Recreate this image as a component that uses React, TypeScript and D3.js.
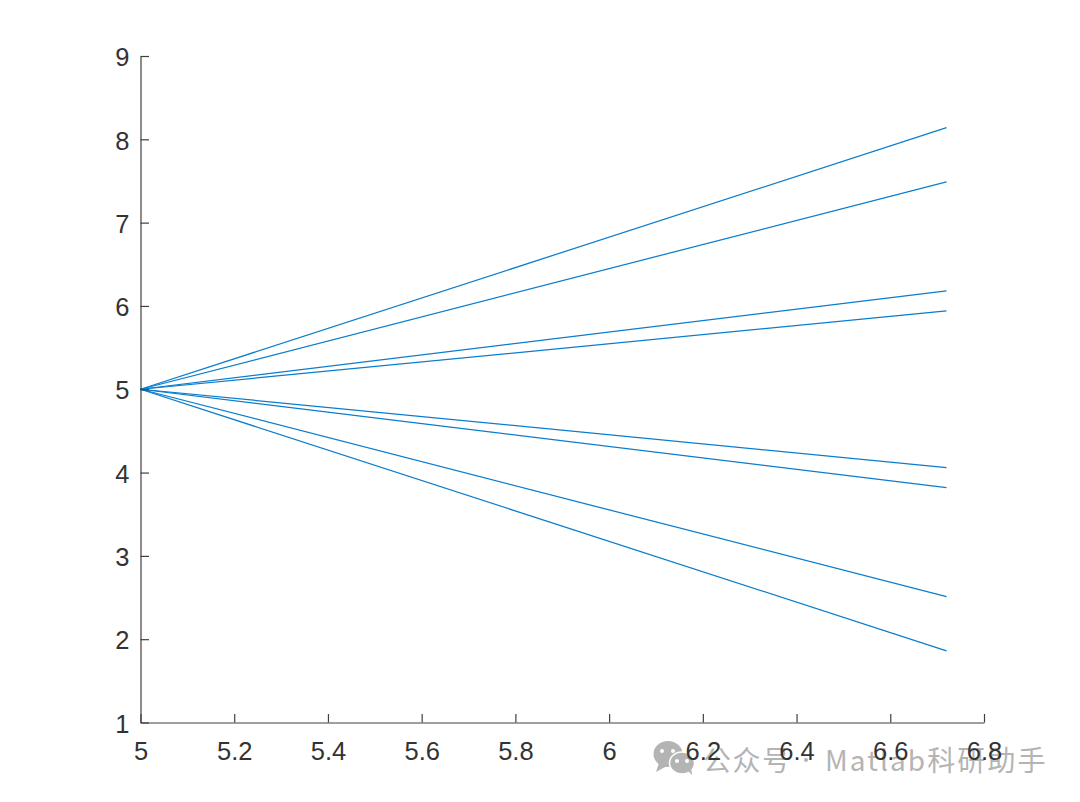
import React, { useEffect, useRef } from 'react';
import * as d3 from 'd3';

// every ray starts at (5, 5) and stops at x = 6.72
const startPoint = [5, 5];
const endX = 6.72;
const endY = [8.14, 7.49, 6.18, 5.94, 4.06, 3.82, 2.51, 1.86];

const xTicks = [5, 5.2, 5.4, 5.6, 5.8, 6, 6.2, 6.4, 6.6, 6.8];
const yTicks = [1, 2, 3, 4, 5, 6, 7, 8, 9];

const width = 1080;
const height = 802;
const axisColor = '#404040';
const tickFont = '"Liberation Sans", Arial, sans-serif';

const App = () => {
  const svgRef = useRef<SVGSVGElement | null>(null);

  useEffect(() => {
    const svg = d3.select(svgRef.current);
    svg.selectAll('*').remove();

    const x = d3.scaleLinear().domain([5, 6.8]).range([140.5, 984]);
    const y = d3.scaleLinear().domain([1, 9]).range([722.5, 56]);

    // watermark goes underneath everything
    const mark = svg.append('g').attr('fill', '#b4b4b4');
    mark.append('ellipse').attr('cx', 668).attr('cy', 754).attr('rx', 14.5).attr('ry', 13);
    mark.append('path').attr('d', 'M659 763 L656 772 L667 766 Z');
    mark
      .append('ellipse')
      .attr('cx', 682)
      .attr('cy', 763)
      .attr('rx', 12.5)
      .attr('ry', 11)
      .attr('stroke', '#fff')
      .attr('stroke-width', 1.5);
    mark.append('path').attr('d', 'M688 771 L692 775 L691 767 Z');
    [[662, 751], [673, 751], [677, 761], [687, 761]].forEach(([cx, cy]) => {
      mark.append('circle').attr('cx', cx).attr('cy', cy).attr('r', 2).attr('fill', '#fff');
    });
    mark
      .append('text')
      .attr('x', 703)
      .attr('y', 771)
      .attr('font-family', '"Noto Sans CJK SC", sans-serif')
      .attr('font-size', 28)
      .attr('letter-spacing', 1.6)
      .text('公众号');
    mark.append('circle').attr('cx', 806).attr('cy', 760).attr('r', 2);
    mark
      .append('text')
      .attr('x', 825)
      .attr('y', 771)
      .attr('font-family', '"Noto Sans CJK SC", sans-serif')
      .attr('font-size', 28)
      .attr('letter-spacing', 2.1)
      .text('Matlab科研助手');

    const line = d3
      .line<number[]>()
      .x((d) => x(d[0]))
      .y((d) => y(d[1]));

    endY.forEach((v) => {
      svg
        .append('path')
        .attr('d', line([startPoint, [endX, v]]))
        .attr('fill', 'none')
        .attr('stroke', '#0a7dcc')
        .attr('stroke-width', 1.25);
    });

    const xAxis = d3
      .axisBottom(x)
      .tickValues(xTicks)
      .tickFormat((d) => String(d))
      .tickSizeInner(-8.5)
      .tickSizeOuter(0)
      .tickPadding(19);
    const yAxis = d3
      .axisLeft(y)
      .tickValues(yTicks)
      .tickFormat((d) => String(d))
      .tickSizeInner(-8.5)
      .tickSizeOuter(0)
      .tickPadding(11);

    const gx = svg.append('g').attr('transform', 'translate(0,722.5)').call(xAxis);
    const gy = svg.append('g').attr('transform', 'translate(140.5,0)').call(yAxis);

    [gx, gy].forEach((g) => {
      g.attr('font-family', tickFont).attr('font-size', 25.5);
      g.selectAll('path, line').attr('stroke', axisColor).attr('stroke-width', 1.2);
      g.selectAll('text').attr('fill', '#333333');
    });
    gy.selectAll('text').attr('dy', '0.38em');
  }, []);

  return (
    <svg
      ref={svgRef}
      width={width}
      height={height}
      style={{ position: 'absolute', left: 0, top: 0, background: '#fff' }}
    />
  );
};

export default App;
